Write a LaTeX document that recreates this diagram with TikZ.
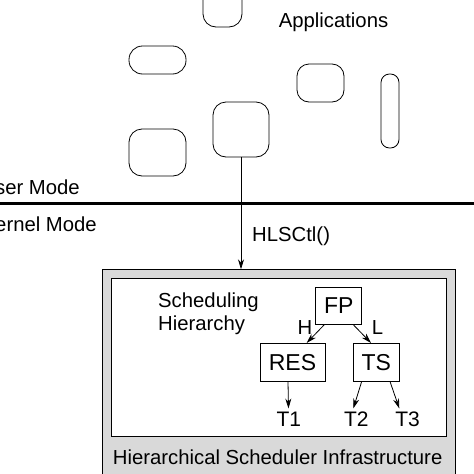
\documentclass[tikz,border=0pt]{standalone}
\usepackage{fontspec}
\setmainfont{Liberation Sans}
\usetikzlibrary{arrows.meta,calc}
\begin{document}
\begin{tikzpicture}[x=1pt,y=-1pt,
  app/.style={draw, line width=0.8pt, inner sep=0pt},
  txt/.style={font=\fontsize{20.3}{24}\selectfont, inner sep=0pt},
  sbox/.style={draw, line width=0.8pt, font=\fontsize{23}{27}\selectfont, inner sep=0pt, minimum height=37pt},
  tlab/.style={font=\fontsize{21}{25}\selectfont, inner sep=0pt, anchor=base},
  arr/.style={-{Stealth[length=10pt,width=6pt]}, line width=0.8pt}]
\useasboundingbox (0,0) rectangle (474,474);
% applications
\node[app, minimum width=39pt, minimum height=40pt, rounded corners=13pt] (a1) at (222.5,7) {};
\node[app, minimum width=57pt, minimum height=28pt, rounded corners=13.5pt] (a2) at (157.5,60) {};
\node[app, minimum width=47pt, minimum height=38pt, rounded corners=12pt] (a3) at (320.5,83) {};
\node[app, minimum width=18pt, minimum height=74pt, rounded corners=8.5pt] (a4) at (390,111) {};
\node[app, minimum width=56pt, minimum height=55pt, rounded corners=13pt] (a5) at (241,129.5) {};
\node[app, minimum width=57pt, minimum height=47pt, rounded corners=13pt] (a6) at (157.5,152.5) {};
\node[txt, anchor=base] (apps) at (333.5,27.3) {Applications};
% mode line
\coordinate (ml) at (-5,203);
\coordinate (mr) at (480,203);
\draw[line width=3pt] (ml) -- (mr);
\node[txt, anchor=base east] (um) at (80,194) {User Mode};
\node[txt, anchor=base east] (km) at (97,231.5) {Kernel Mode};
% infrastructure
\node[draw, fill=gray!30, line width=0.8pt, inner sep=0pt, minimum width=353.3pt, minimum height=230pt, anchor=north west] (outer) at (101.7,269.3) {};
\node[draw, fill=white, line width=0.8pt, inner sep=0pt, minimum width=335.3pt, minimum height=157.7pt, anchor=north west] (inner) at (110.7,278.3) {};
\node[txt, anchor=base west] (hsi) at (112.7,464) {Hierarchical Scheduler Infrastructure};
\draw[arr] (a5.south) -- (a5.south |- outer.north);
\node[txt, anchor=base west] (hlsctl) at (252,241) {HLSCtl()};
% hierarchy
\node[txt, anchor=base west] (sch1) at (158,307.3) {Scheduling};
\node[txt, anchor=base west] (sch2) at (158,330) {Hierarchy};
\node[sbox, minimum width=46pt, minimum height=36.6pt] (fp) at (338.7,306) {FP};
\node[sbox, minimum width=65pt, minimum height=37.7pt] (res) at (292.5,362.2) {RES};
\node[sbox, minimum width=46pt, minimum height=37.7pt] (ts) at (376.3,362.2) {TS};
\node[tlab] (t1) at (288.8,426.7) {T1};
\node[tlab] (t2) at (356.3,426.7) {T2};
\node[tlab] (t3) at (407.5,426.7) {T3};
\node[txt] (h) at (305,327.8) {H};
\node[txt] (l) at (377.5,327.8) {L};
\coordinate (t1e) at (288.5,408.5);
\coordinate (t2e) at (353.3,408.5);
\coordinate (t3e) at (399.3,408.5);
\draw[arr] ($(fp.south)+(-14.4,0)$) -- ($(res.north)+(14.2,0)$);
\draw[arr] ($(fp.south)+(14.6,0)$) -- ($(ts.north)+(-5.3,0)$);
\draw[arr] ($(res.south)+(-4.5,0)$) -- (t1e);
\draw[arr] ($(ts.south)+(-14.6,0)$) -- (t2e);
\draw[arr] ($(ts.south)+(13.7,0)$) -- (t3e);
\end{tikzpicture}
\end{document}
